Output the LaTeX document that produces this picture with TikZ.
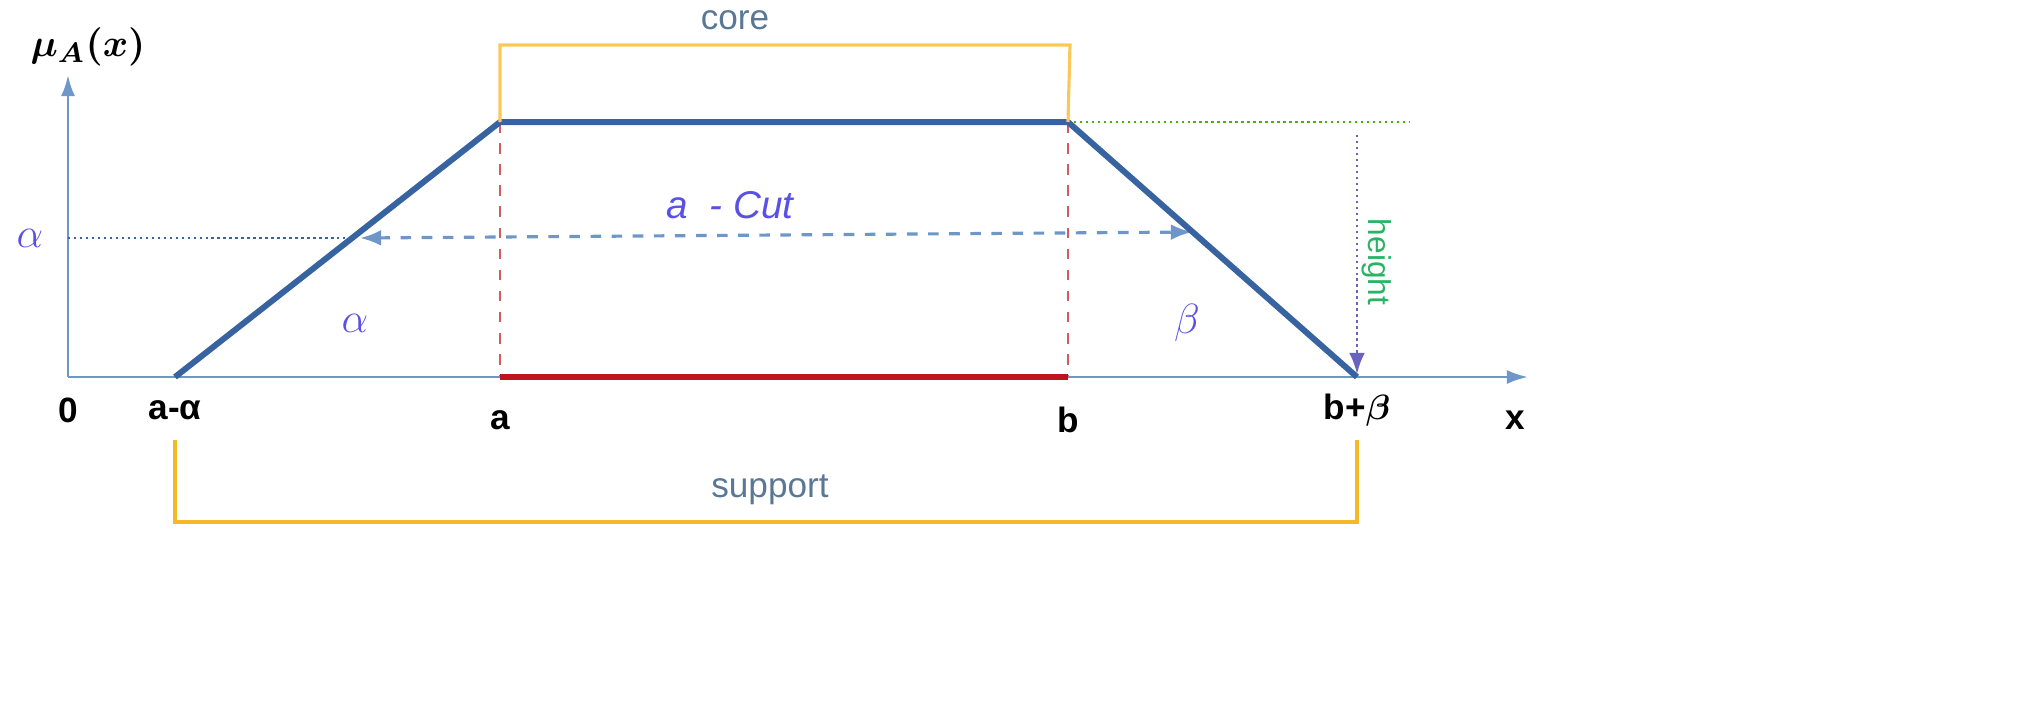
\documentclass[tikz,border=0pt]{standalone}
\usepackage{amsmath,bm}
\usepackage{fontspec}
\setmainfont{Liberation Sans}
\usetikzlibrary{arrows.meta}
\definecolor{axisblue}{RGB}{110,150,200}
\definecolor{trapblue}{RGB}{55,100,160}
\definecolor{coreyellow}{RGB}{250,200,90}
\definecolor{suppyellow}{RGB}{245,185,40}
\definecolor{cutred}{RGB}{190,20,30}
\definecolor{labpurple}{RGB}{90,80,230}
\definecolor{hgreen}{RGB}{40,180,100}
\definecolor{labgray}{RGB}{90,120,150}
\tikzset{
  axis/.style={axisblue, line width=0.8pt, -{Latex[length=6pt,width=4pt]}},
  trap/.style={trapblue, line width=1.7pt, line join=round},
  bracket/.style={line width=0.9pt},
  lab/.style={font=\bfseries\fontsize{10}{12}\selectfont},
  greek/.style={labpurple, font=\fontsize{12}{14}\selectfont}
}
\begin{document}
\begin{tikzpicture}[x=0.01cm,y=-0.01cm]
        \useasboundingbox (0,0) rectangle (2027,702);
        \coordinate (O) at (68,377);
        \coordinate (Ytop) at (68,75);
        \coordinate (Xend) at (1528,377);
        \coordinate (P1) at (175,377);
        \coordinate (P2) at (500,122);
        \coordinate (P3) at (1068,122);
        \coordinate (P4) at (1357,377);
        \coordinate (A0) at (500,377);
        \coordinate (B0) at (1068,377);
        \coordinate (C1) at (500,45);
        \coordinate (C2) at (1070,45);
        \coordinate (S1) at (175,440);
        \coordinate (S2) at (175,522);
        \coordinate (S3) at (1357,522);
        \coordinate (S4) at (1357,440);
        \coordinate (G1) at (1410,122);
        \coordinate (Al) at (68,238);
        \coordinate (Am) at (355,238);
        \coordinate (Cl) at (360,238);
        \coordinate (Cr) at (1192,232);
        \coordinate (Ht) at (1357,135);
        \coordinate (Hb) at (1357,374);

        \node[font=\fontsize{11}{13}\selectfont] (mu) at (88,47) {$\bm{\mu_A(x)}$};
        \node[labgray, font=\fontsize{10}{12}\selectfont] (core) at (735,20) {core};
        \node[labgray, font=\fontsize{10}{12}\selectfont] (support) at (770,490) {support};
        \node[labpurple, font=\itshape\fontsize{11}{13}\selectfont] (cut) at (730,205) {a \ - Cut};
        \node[hgreen, rotate=-90, font=\fontsize{9}{11}\selectfont] (height) at (1377,262) {height};
        \node[greek] (alphaL) at (30,238) {$\alpha$};
        \node[greek] (alphaB) at (355,323) {$\alpha$};
        \node[greek] (betaB) at (1187,323) {$\beta$};
        \node[lab] (zero) at (68,410) {0};
        \node[lab] (amal) at (175,410) {a-α};
        \node[lab] (a) at (500,420) {a};
        \node[lab] (b) at (1068,420) {b};
        \node[lab] (bpb) at (1357,410) {b+$\bm{\beta}$};
        \node[lab] (x) at (1515,420) {x};

        % axes and guides
        \draw[green!40!olive, densely dotted, line width=0.7pt] (P2) -- (G1);
        \draw[axis] (O) -- (Ytop);
        \draw[axis] (O) -- (Xend);
        \draw[cutred!70, dashed, line width=0.7pt] (P2) -- (A0) (P3) -- (B0);
        \draw[cutred, line width=1.7pt] (A0) -- (B0);
        \draw[trapblue, densely dotted, line width=0.7pt] (Al) -- (Am);
        \draw[axisblue, dashed, line width=0.9pt, {Latex[length=6pt,width=4.5pt]}-{Latex[length=6pt,width=4.5pt]}] (Cl) -- (Cr);
        \draw[trap] (P1) -- (P2) -- (P3) -- (P4);
        \draw[labpurple!60!gray, densely dotted, line width=0.7pt, -{Latex[length=6pt,width=4.5pt]}] (Ht) -- (Hb);
        % brackets
        \draw[coreyellow, bracket] (P2) -- (C1) -- (C2) -- (P3);
        \draw[suppyellow, bracket] (S1) -- (S2) -- (S3) -- (S4);
      \end{tikzpicture}
\end{document}
